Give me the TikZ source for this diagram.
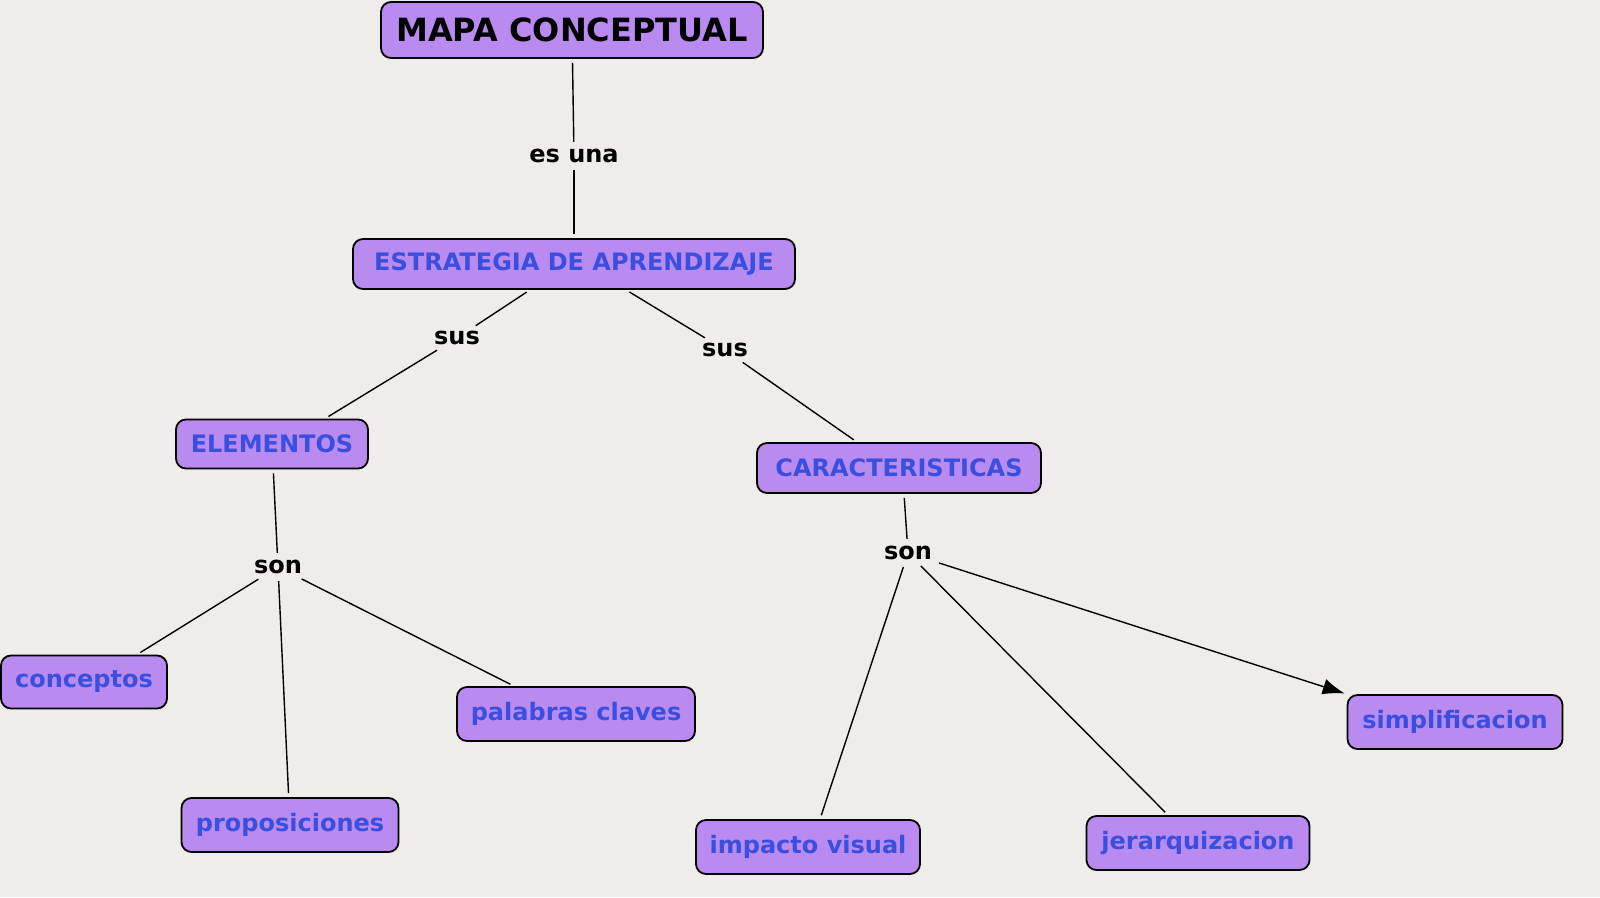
\documentclass[tikz,border=0pt]{standalone}
\usepackage{fontspec}
\setmainfont{DejaVu Sans}
\usetikzlibrary{arrows.meta}
\begin{document}
\definecolor{bg}{HTML}{EFEDEA}
\definecolor{box}{HTML}{B98AF0}
\definecolor{txt}{HTML}{3A4FE0}
\begin{tikzpicture}[x=1pt,y=-1pt,
 c/.style={draw=black,line width=1.8pt,fill=box,rounded corners=10pt,font=\fontsize{24}{28}\selectfont\bfseries,text=txt,minimum height=52pt,inner sep=0pt},
 l/.style={font=\fontsize{24}{28}\selectfont\bfseries,inner sep=3pt},
 e/.style={line width=1.4pt,shorten <=4pt,shorten >=4pt}]
\fill[bg] (0,0) rectangle (1600,897);
\node[c,text=black,minimum width=382pt,minimum height=56pt,font=\fontsize{32}{36}\selectfont\bfseries] (t) at (572,30) {MAPA CONCEPTUAL};
\node[c,minimum width=442pt,minimum height=50pt] (est) at (574,264) {ESTRATEGIA DE APRENDIZAJE};
\node[c,minimum width=192pt,minimum height=49pt] (ele) at (272,444) {ELEMENTOS};
\node[c,minimum width=284pt,minimum height=50pt] (car) at (899,468) {CARACTERISTICAS};
\node[c,minimum width=166pt,minimum height=53pt] (con) at (84,682) {conceptos};
\node[c,minimum width=217pt,minimum height=54pt] (pro) at (290,825) {proposiciones};
\node[c,minimum width=238pt,minimum height=54pt] (pal) at (576,714) {palabras claves};
\node[c,minimum width=224pt,minimum height=54pt] (imp) at (808,847) {impacto visual};
\node[c,minimum width=223pt,minimum height=54pt] (jer) at (1198,843) {jerarquizacion};
\node[c,minimum width=215pt,minimum height=54pt] (sim) at (1455,722) {simplificacion};
\node[l] (l1) at (574,156) {es una};
\node[l] (l2) at (457,338) {sus};
\node[l] (l3) at (725,350) {sus};
\node[l] (l4) at (278,567) {son};
\node[l] (l5) at (908,553) {son};
\draw[e] (t) -- (l1); \draw[e] (l1) -- (est);
\draw[e] (est.south -| 530,0) -- (l2); \draw[e] (l2) -- (ele.north -| 325,0);
\draw[e] (est.south -| 626,0) -- (l3); \draw[e] (l3) -- (car.north -| 857,0);
\draw[e] (ele) -- (l4); \draw[e] (l4) -- (con.north -| 137,0);
\draw[e] (l4) -- (pro); \draw[e] (l4) -- (pal.north -| 514,0);
\draw[e] (car.south -| 904,0) -- (l5); \draw[e] (l5) -- (imp.north -| 820,0);
\draw[e] (l5) -- (jer.north -| 1168,0);
\draw[e,-{Latex[length=22pt,width=16pt]},shorten >=2pt] (l5) -- (sim.north west);
\pgfresetboundingbox
\useasboundingbox (0,0) rectangle (1600,897);
\end{tikzpicture}
\end{document}
